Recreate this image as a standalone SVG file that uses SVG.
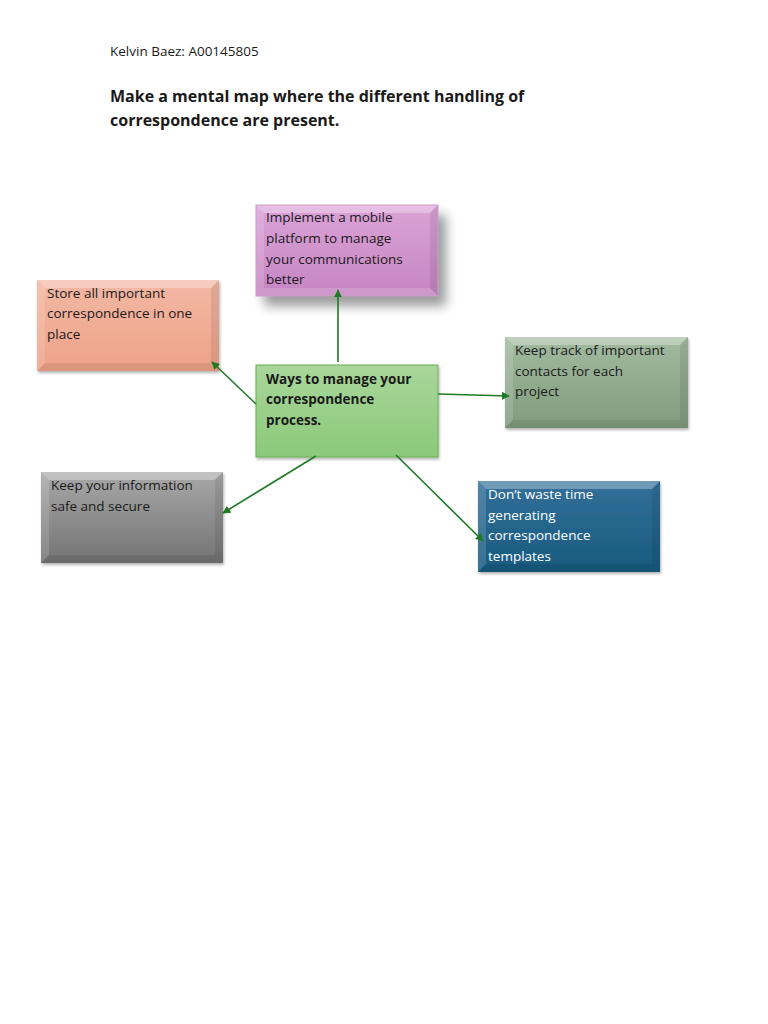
<svg xmlns="http://www.w3.org/2000/svg" width="768" height="1024" viewBox="0 0 768 1024">
<defs>
<style>
.t{font-family:"Open Sans","Liberation Sans",sans-serif;font-size:13.5px;fill:#1a1a1a}
.w{fill:#ffffff}
.b{font-weight:bold}
.bl{fill:#fff;opacity:.3}
.bs{fill:#fff;opacity:.14}
.bd{fill:#000;opacity:.08}
.c{stroke:#1f7a24;stroke-width:1.6;fill:none;marker-end:url(#ah)}
</style>
<marker id="ah" viewBox="0 0 10 10" refX="9" refY="5" markerWidth="8" markerHeight="8" orient="auto-start-reverse" markerUnits="userSpaceOnUse"><path d="M0,0 L10,5 L0,10 z" fill="#1f7a24"/></marker>
<filter id="sh" x="-30%" y="-30%" width="160%" height="170%"><feGaussianBlur in="SourceAlpha" stdDeviation="6"/><feOffset dx="8" dy="10"/><feComponentTransfer><feFuncA type="linear" slope="0.4"/></feComponentTransfer><feMerge><feMergeNode/><feMergeNode in="SourceGraphic"/></feMerge></filter>
<filter id="sm" x="-10%" y="-10%" width="125%" height="130%"><feGaussianBlur in="SourceAlpha" stdDeviation="1.5"/><feOffset dx="1" dy="2"/><feComponentTransfer><feFuncA type="linear" slope="0.3"/></feComponentTransfer><feMerge><feMergeNode/><feMergeNode in="SourceGraphic"/></feMerge></filter>
<linearGradient id="gp" x1="0" y1="0" x2="0" y2="1"><stop offset="0" stop-color="#dca3d8"/><stop offset="1" stop-color="#c585c1"/></linearGradient>
<linearGradient id="gs" x1="0" y1="0" x2="0" y2="1"><stop offset="0" stop-color="#f3b8a4"/><stop offset="1" stop-color="#eea288"/></linearGradient>
<linearGradient id="gc" x1="0" y1="0" x2="0" y2="1"><stop offset="0" stop-color="#a9d69b"/><stop offset="1" stop-color="#8bc97a"/></linearGradient>
<linearGradient id="gg" x1="0" y1="0" x2="0" y2="1"><stop offset="0" stop-color="#a3bba0"/><stop offset="1" stop-color="#819b7e"/></linearGradient>
<linearGradient id="gy" x1="0" y1="0" x2="0" y2="1"><stop offset="0" stop-color="#a8a8a8"/><stop offset="1" stop-color="#737373"/></linearGradient>
<linearGradient id="gb" x1="0" y1="0" x2="0" y2="1"><stop offset="0" stop-color="#33709a"/><stop offset="1" stop-color="#175a7e"/></linearGradient>
</defs>
<rect width="768" height="1024" fill="#ffffff"/>
<text class="t" x="110" y="56">Kelvin Baez: A00145805</text>
<text class="t b" x="110" y="102" style="font-size:16px">Make a mental map where the different handling of</text>
<text class="t b" x="110" y="126" style="font-size:16px">correspondence are present.</text>

<g id="node-purple">
<g filter="url(#sh)"><rect x="256" y="205" width="182" height="91" fill="url(#gp)"/></g>
<polygon class="bl" points="256,205 438,205 430,213 264,213"/>
<polygon class="bs" points="256,205 264,213 264,288 256,296"/>
<polygon class="bd" points="438,205 438,296 430,288 430,213"/>
<polygon class="bs" points="256,296 264,288 430,288 438,296"/>
<rect x="256" y="205" width="182" height="91" fill="none" stroke="#c9a0c6" stroke-width="1"/>
<text class="t" x="266" y="222">Implement a mobile</text>
<text class="t" x="266" y="243">platform to manage</text>
<text class="t" x="266" y="264">your communications</text>
<text class="t" x="266" y="284">better</text>
</g>

<g id="node-salmon">
<g filter="url(#sm)"><rect x="37" y="280" width="182" height="91" fill="url(#gs)"/></g>
<polygon class="bl" points="37,280 219,280 211,288 45,288"/>
<polygon class="bs" points="37,280 45,288 45,363 37,371"/>
<polygon class="bd" points="219,280 219,371 211,363 211,288"/>
<polygon class="bd" points="37,371 45,363 211,363 219,371"/>
<text class="t" x="47" y="298">Store all important</text>
<text class="t" x="47" y="318">correspondence in one</text>
<text class="t" x="47" y="339">place</text>
</g>

<g id="node-center">
<g filter="url(#sm)"><rect x="256" y="365" width="182" height="92" fill="url(#gc)" stroke="#6aae55" stroke-width="1"/></g>
<text class="t b" x="266" y="384">Ways to manage your</text>
<text class="t b" x="266" y="404">correspondence</text>
<text class="t b" x="266" y="425">process.</text>
</g>

<g id="node-greygreen">
<g filter="url(#sm)"><rect x="505" y="337" width="183" height="91" fill="url(#gg)"/></g>
<polygon class="bl" points="505,337 688,337 680,345 513,345"/>
<polygon class="bs" points="505,337 513,345 513,420 505,428"/>
<polygon class="bd" points="688,337 688,428 680,420 680,345"/>
<polygon class="bd" points="505,428 513,420 680,420 688,428"/>
<text class="t" x="515" y="355">Keep track of important</text>
<text class="t" x="515" y="376">contacts for each</text>
<text class="t" x="515" y="396">project</text>
</g>

<g id="node-grey">
<g filter="url(#sm)"><rect x="41" y="472" width="182" height="91" fill="url(#gy)"/></g>
<polygon class="bl" points="41,472 223,472 215,480 49,480"/>
<polygon class="bs" points="41,472 49,480 49,555 41,563"/>
<polygon class="bd" points="223,472 223,563 215,555 215,480"/>
<polygon class="bd" points="41,563 49,555 215,555 223,563"/>
<text class="t" x="51" y="490">Keep your information</text>
<text class="t" x="51" y="511">safe and secure</text>
</g>

<g id="node-blue">
<g filter="url(#sm)"><rect x="478" y="481" width="182" height="91" fill="url(#gb)"/></g>
<polygon class="bl" points="478,481 660,481 652,489 486,489"/>
<polygon class="bs" points="478,481 486,489 486,564 478,572"/>
<polygon class="bd" points="660,481 660,572 652,564 652,489"/>
<polygon class="bd" points="478,572 486,564 652,564 660,572"/>
<text class="t w" x="488" y="499">Don’t waste time</text>
<text class="t w" x="488" y="520">generating</text>
<text class="t w" x="488" y="540">correspondence</text>
<text class="t w" x="488" y="561">templates</text>
</g>

<g id="connectors">
<line class="c" x1="338" y1="362" x2="338" y2="290"/>
<line class="c" x1="256" y1="404" x2="212" y2="362"/>
<line class="c" x1="438" y1="394" x2="509" y2="396"/>
<line class="c" x1="316" y1="456" x2="223" y2="513"/>
<line class="c" x1="396" y1="455" x2="483" y2="541"/>
</g>
</svg>
